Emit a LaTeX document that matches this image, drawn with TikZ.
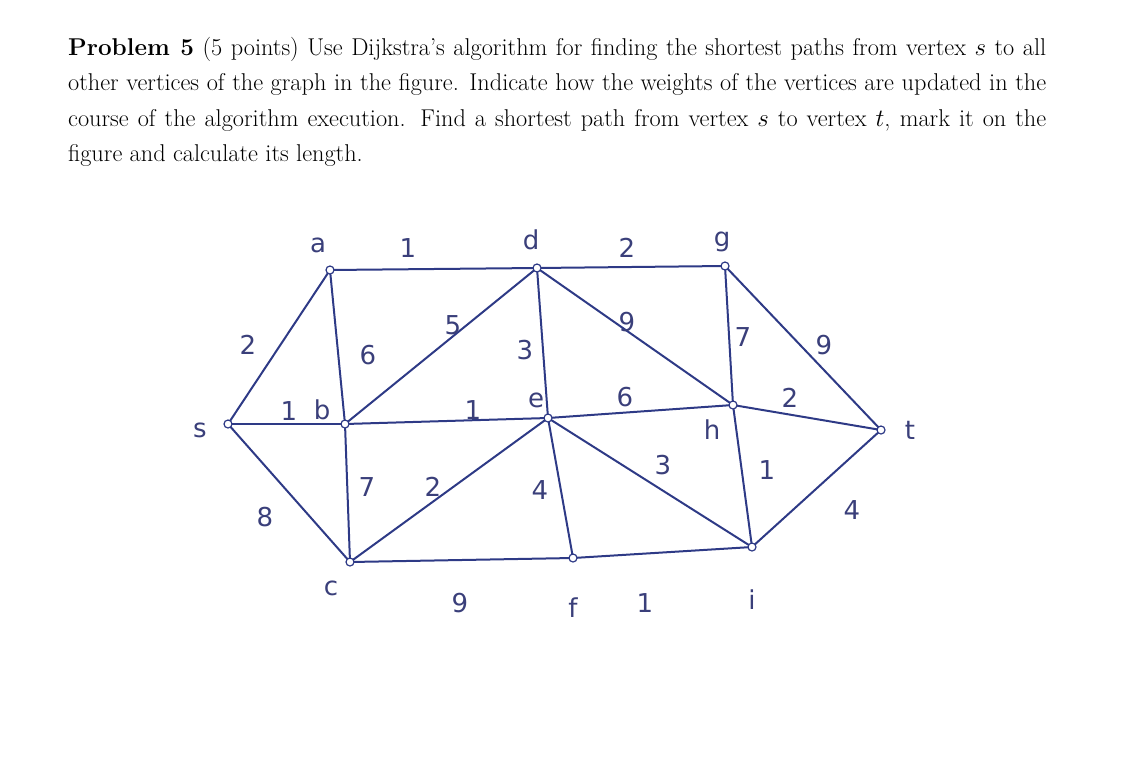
\documentclass[tikz,border=0pt]{standalone}
\usepackage{fontspec}
\newfontfamily\hand{DejaVu Sans}
\begin{document}
\begin{tikzpicture}[x=1pt,y=-1pt,
  v/.style={circle,draw=edgec,fill=white,line width=1.2pt,inner sep=0pt,minimum size=8pt},
  e/.style={draw=edgec,line width=2pt},
  lb/.style={font=\hand\fontsize{26}{26}\selectfont,text=labc}]
\definecolor{edgec}{HTML}{2E3A86}
\definecolor{labc}{HTML}{3A3F7A}
\useasboundingbox (0,0) rectangle (1139,766);
\node[anchor=north west,text width=978pt,align=justify,inner sep=0pt,font=\fontsize{24.3}{35.5}\selectfont] (txt) at (68,37)
{\textbf{Problem 5} (5 points) Use Dijkstra's algorithm for finding the shortest paths from vertex $s$ to all other vertices of the graph in the figure. Indicate how the weights of the vertices are updated in the course of the algorithm execution. Find a shortest path from vertex $s$ to vertex $t$, mark it on the figure and calculate its length.};
\path (228,424) coordinate (s) (330,270) coordinate (a) (345,424) coordinate (b)
 (350,562) coordinate (c) (537,268) coordinate (d) (548,418) coordinate (e)
 (573,558) coordinate (f) (725,266) coordinate (g) (733,405) coordinate (h)
 (752,547) coordinate (i) (881,430) coordinate (t);
\foreach \p/\q in {s/a,s/b,s/c,a/d,a/b,b/d,b/e,b/c,c/e,c/f,d/g,d/e,d/h,e/h,e/f,e/i,f/i,g/h,g/t,h/t,h/i,i/t}
  \draw[e] (\p) -- (\q);
\foreach \p in {s,a,b,c,d,e,f,g,h,i,t} \node[v] (n\p) at (\p) {};
\foreach \x/\y/\t in {318/245/a,408/248/1,531/240/d,627/248/2,722/242/g,248/345/2,368/355/6,453/325/5,525/350/3,627/322/9,743/337/7,824/345/9,289/411/1,322/410/b,473/410/1,536/400/e,625/397/6,790/398/2,712/430/h,910/430/t,200/430/s,367/487/7,433/487/2,540/490/4,663/465/3,767/470/1,852/510/4,265/517/8,331/588/c,460/603/9,573/608/f,645/603/1,752/600/i}
  \node[lb] at (\x,\y) {\t};
\end{tikzpicture}
\end{document}
